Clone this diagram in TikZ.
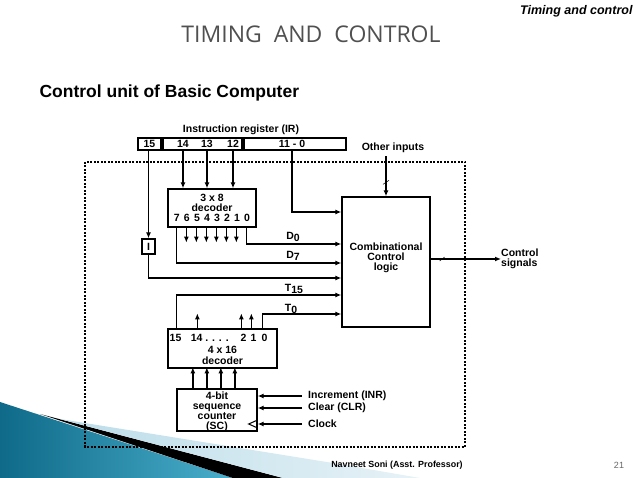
\documentclass[tikz,border=0pt]{standalone}
\usepackage{fontspec}
\setmainfont{Liberation Sans}
\newfontfamily\titlefont{Open Sans}
\usetikzlibrary{arrows.meta,calc}
\definecolor{titlegray}{HTML}{505050}
\definecolor{tealdark}{HTML}{0E6A88}
\definecolor{teallight}{HTML}{4AAFCC}
\definecolor{paleblue}{HTML}{CFE5EE}
\newcommand{\lbl}{\bfseries\fontsize{10.5}{10}\selectfont}
\newcommand{\lowidx}[1]{\raisebox{-2.5pt}{#1}}
\tikzset{block/.style={draw,line width=1.3pt,inner sep=0pt,align=center,font=\lbl},}
\tikzset{wire/.style={line width=1.3pt},}
\tikzset{feed/.style={wire,-{Latex[length=6pt,width=5pt]}},}
\tikzset{tag/.style={inner sep=0pt,align=center,font=\lbl},}

\begin{document}
\begin{tikzpicture}[x=1pt,y=-1pt]
    \useasboundingbox (0,0) rectangle (638,478);
    % slide decoration
    \shade[left color=tealdark,right color=teallight] (0,402) -- (233,478) -- (0,478) -- cycle;
    \fill[black] (40,414) -- (283,478) -- (233,478) -- cycle;
    \shade[left color=paleblue!85!teallight,right color=paleblue!50] (60,419) -- (333,463) -- (420,478) -- (283,478) -- cycle;

    % headings
    \node[anchor=east,font=\bfseries\itshape\fontsize{12.5}{12.5}\selectfont] (hdr) at (636,11) {Timing and control};
    \node[font=\titlefont\fontsize{23}{23}\selectfont,text=titlegray] (title) at (311,34) {TIMING\ \ AND\ \ CONTROL};
    \node[anchor=west,font=\bfseries\fontsize{17.5}{18}\selectfont] (sub) at (36,93) {Control unit of Basic Computer};

    % dotted frame
    \draw[line width=2pt,dash pattern=on 2pt off 1.5pt] (85,162) rectangle (465,447);

    % instruction register
    \node[tag] (irname) at (241,130) {Instruction register (IR)};
    \node[block,minimum width=23pt,minimum height=12pt] (ir15) at (149.5,144) {15};
    \node[block,minimum width=79pt,minimum height=12pt] (irop) at (202.5,144) {};
    \node[block,minimum width=102pt,minimum height=12pt] (iradr) at (295,144) {};
    \node[tag] (b14) at (183,144) {14};
    \node[tag] (b13) at (207,144) {13};
    \node[tag] (b12) at (233,144) {12};
    \node[tag] (adr) at (292,144) {11 - 0};

    % 3 x 8 decoder
    \node[block,minimum width=88pt,minimum height=38pt] (dec) at (212,208)
        {3 x 8\\decoder\\7\hspace{4.2pt}6\hspace{4.2pt}5\hspace{4.2pt}4\hspace{4.2pt}3\hspace{4.2pt}2\hspace{4.2pt}1\hspace{4.2pt}0};
    \draw[feed] (b14 |- irop.south) -- (b14 |- dec.north);
    \draw[feed] (b13 |- irop.south) -- (b13 |- dec.north);
    \draw[feed] (b12 |- irop.south) -- (b12 |- dec.north);
    \foreach \k in {1,...,6}
        \draw[feed] ($(dec.south west)+(9+10*\k,0)$) -- ++(0,15);

    % control logic
    \node[block,minimum width=88pt,minimum height=130pt,
          label={[tag,yshift=4pt]center:Combinational\\Control\\logic}] (ccl) at (386,262) {};
    \node[tag] (oth) at (393,148) {Other inputs};
    \node[tag,anchor=west,align=left] (sigs) at (501,259) {Control\\signals};
    \node[tag] (d0) at (293,237) {D\lowidx{0}};
    \node[tag] (d7) at (293,256) {D\lowidx{7}};
    \node[tag] (t15) at (294,289) {T\lowidx{15}};
    \node[tag] (t0) at (291,309) {T\lowidx{0}};

    \draw[feed] ($(oth.south -| ccl.north)+(0,3)$) -- (ccl.north);
    \draw[line width=0.5pt] ($(ccl.north)+(-3,-12)$) -- ($(ccl.north)+(3,-16)$);
    \draw[feed] (ccl.east |- sigs.west) -- (sigs.west);
    \draw[line width=0.5pt] ($(ccl.east |- sigs.west)+(9,2)$) -- ($(ccl.east |- sigs.west)+(14,-2)$);

    \draw[feed] (adr |- iradr.south) |- (ccl.west |- 0,212);
    \draw[feed] ($(dec.south west)+(79,0)$) |- (ccl.west |- 0,244);
    \draw[feed] ($(dec.south west)+(9,0)$) |- (ccl.west |- 0,263);

    % I flip-flop
    \node[block,minimum width=13pt,minimum height=15pt] (ibit) at (148.5,246.5) {I};
    \draw[feed] (ir15.south -| ibit.north) -- (ibit.north);
    \draw[feed] (ibit.south) |- (ccl.west |- 0,278);

    % 4 x 16 decoder
    \node[block,minimum width=109pt,minimum height=39pt] (tdec) at (222.5,348.5) {};
    \node[tag] (tbits) at (218.6,338)
        {15\hspace{9.4pt}14 . . . .\hspace{11.9pt}2\hspace{4.2pt}1\hspace{5.2pt}0};
    \node[tag,font=\bfseries\fontsize{10.5}{11}\selectfont] (tname) at (222.5,355) {4 x 16\\decoder};
    \draw[feed] ($(tdec.north west)+(9,0)$) |- (ccl.west |- 0,295);
    \draw[feed] ($(tdec.north west)+(95,0)$) |- (ccl.west |- 0,314);
    \draw[feed] ($(tdec.north west)+(30,0)$) -- ++(0,-15);
    \draw[feed] ($(tdec.north west)+(74,0)$) -- ++(0,-15);
    \draw[feed] ($(tdec.north west)+(84,0)$) -- ++(0,-15);

    % sequence counter
    \node[block,minimum width=80pt,minimum height=42pt,
          label={[tag,yshift=-2pt]center:4-bit\\sequence\\counter\\(SC)}] (sc) at (217,410) {};
    \draw[line width=1pt] ($(sc.east)+(0,10)$) -- ++(-9,4) -- ++(9,4);
    \foreach \dx in {16.5,30.5,44.5,58.5}
        \draw[feed] ($(sc.north west)+(\dx,0)$) -- ++(0,-21);

    \node[tag,anchor=west] (inr) at (308,396) {Increment (INR)};
    \node[tag,anchor=west] (clr) at (308,408) {Clear (CLR)};
    \node[tag,anchor=west] (clk) at (308,424) {Clock};
    \draw[feed] ($(inr.west)+(-6,0)$) -- (inr.west -| sc.east);
    \draw[feed] ($(clr.west)+(-6,0)$) -- (clr.west -| sc.east);
    \draw[feed] ($(clk.west)+(-6,0)$) -- (clk.west -| sc.east);

    % footer
    \node[font=\bfseries\fontsize{8.9}{9}\selectfont] (auth) at (397,465) {Navneet Soni (Asst. Professor)};
    \node[text=gray!80!black,font=\fontsize{9}{9}\selectfont] (pg) at (619,465) {21};
\end{tikzpicture}
\end{document}
